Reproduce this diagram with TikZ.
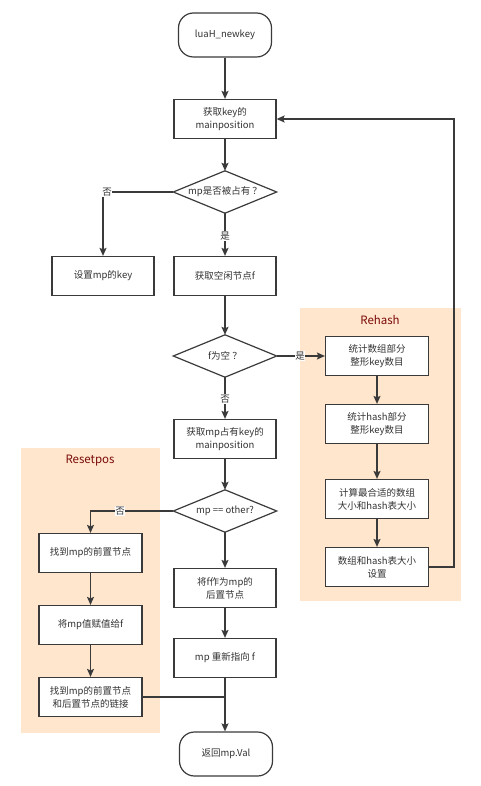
\documentclass[tikz,border=0pt]{standalone}
\usepackage{fontspec}
\setmainfont{Noto Sans CJK SC}
\usetikzlibrary{arrows.meta}
\definecolor{linec}{HTML}{3A3A3A}
\definecolor{grpfill}{HTML}{FFE6CC}
\definecolor{titlec}{HTML}{7A0A0A}
\begin{document}
\begin{tikzpicture}[x=1pt,y=-1pt,
  txt/.style={font=\fontsize{9.5}{13}\selectfont,text=black!80},
  box/.style={txt,draw=linec,line width=1.2pt,fill=white,minimum width=102pt,minimum height=39pt,inner sep=0pt,align=center},
  term/.style={box,rounded corners=15pt,minimum width=93pt,minimum height=44pt},
  dectext/.style={txt,minimum width=103pt,minimum height=42pt,inner sep=0pt,align=center},
  decshape/.style={draw=linec,line width=1.2pt,fill=white,line join=miter},
  conn/.style={draw=linec,line width=1.4pt},
  arr/.style={conn,-{Stealth[length=8pt,width=7pt,inset=1.5pt]}},
  lbl/.style={txt,fill=white,inner sep=0.5pt},
  grp/.style={fill=grpfill,draw=none},
  grptitle/.style={font=\fontsize{11.5}{13}\selectfont,text=titlec}
]
\useasboundingbox (0,0) rectangle (481,786);
% groups
\fill[grp] (300,308) rectangle (461,601);
\node[grptitle] (rhtitle) at (380,320) {Rehash};
\fill[grp] (21,448) rectangle (160,733);
\node[grptitle] (rptitle) at (90,461) {Resetpos};

% main column
\node[term] (start) at (225,35) {luaH\_newkey};
\node[box] (mp1) at (225,119) {获取key的\\mainposition};
\node[dectext] (d1) at (225,192) {};
\path[decshape] (d1.west) -- (d1.north) -- (d1.east) -- (d1.south) -- cycle;
\node[txt] at (d1.center) {mp是否被占有 ？};
\node[box] (setkey) at (103,276) {设置mp的key};
\node[box] (getf) at (225,276) {获取空闲节点f};
\node[dectext] (d2) at (225,356) {};
\path[decshape] (d2.west) -- (d2.north) -- (d2.east) -- (d2.south) -- cycle;
\node[txt] at (d2.center) {f为空 ？};
\node[box] (mp2) at (225,439) {获取mp占有key的\\mainposition};
\node[dectext] (d3) at (225,511) {};
\path[decshape] (d3.west) -- (d3.north) -- (d3.east) -- (d3.south) -- cycle;
\node[txt] at (d3.center) {mp == other?};
\node[box] (after) at (225,588) {将f作为mp的\\后置节点};
\node[box] (redir) at (225,658) {mp 重新指向 f};
\node[term] (end) at (226,754) {返回mp.Val};

% rehash
\node[box,minimum width=103pt] (r1) at (377,356) {统计数组部分\\整形key数目};
\node[box,minimum width=103pt] (r2) at (377,424) {统计hash部分\\整形key数目};
\node[box,minimum width=103pt] (r3) at (377,499) {计算最合适的数组\\大小和hash表大小};
\node[box,minimum width=103pt] (r4) at (377,567) {数组和hash表大小\\设置};

% resetpos
\node[box,minimum width=103pt] (p1) at (90.5,553) {找到mp的前置节点};
\node[box,minimum width=103pt] (p2) at (90.5,625) {将mp值赋值给f};
\node[box,minimum width=103pt] (p3) at (90.5,697) {找到mp的前置节点\\和后置节点的链接};

% connectors
\draw[arr] (start) -- (mp1);
\draw[arr] (mp1) -- (d1.north);
\draw[arr] (d1.west) -| (setkey.north);
\node[lbl] (l1) at (107,192) {否};
\draw[arr] (d1.south) -- (getf.north);
\node[lbl] (l2) at (225,236) {是};
\draw[arr] (getf) -- (d2.north);
\draw[arr] (d2.east) -- (r1.west);
\node[lbl] (l3) at (300,356) {是};
\draw[arr] (d2.south) -- (mp2.north);
\node[lbl] (l4) at (225,399) {否};
\draw[arr] (r1) -- (r2);
\draw[arr] (r2) -- (r3);
\draw[arr] (r3) -- (r4);
\draw[arr] (r4.east) -- ++(25,0) |- (mp1.east);
\draw[arr] (mp2) -- (d3.north);
\draw[arr] (d3.west) -| (p1.north);
\node[lbl] (l5) at (120,511) {否};
\draw[arr] (d3.south) -- (after.north);
\draw[arr] (p1) -- (p2);
\draw[arr] (p2) -- (p3);
\draw[arr] (after) -- (redir);
\draw[arr] (redir.south) -- (redir.south |- end.north);
\draw[conn] (p3.east) -- (redir.south |- p3.east);
\end{tikzpicture}
\end{document}
